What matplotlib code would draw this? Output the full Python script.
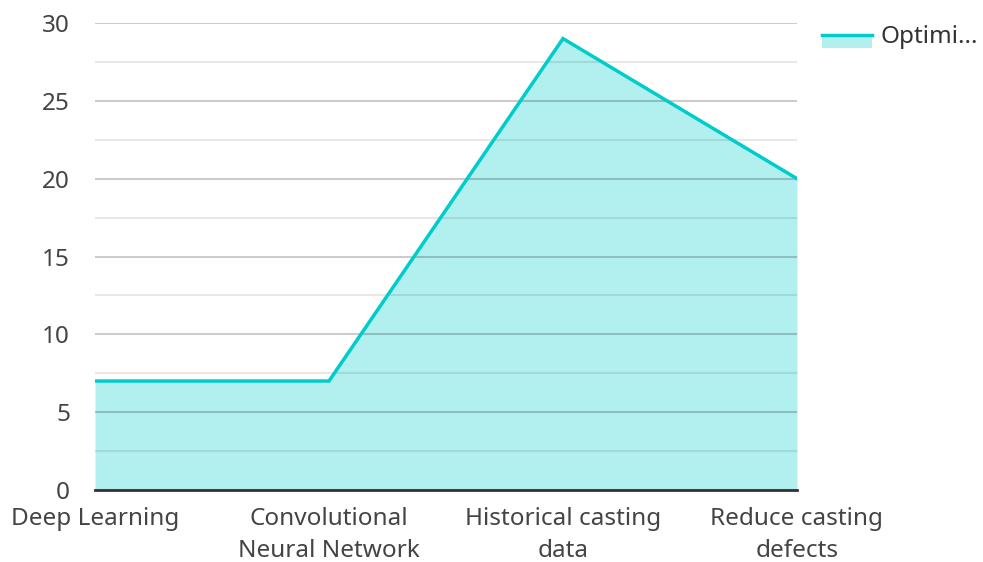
import matplotlib.pyplot as plt
from matplotlib.lines import Line2D
from matplotlib.patches import Rectangle
import numpy as np

plt.rcParams['font.family'] = ['Noto Sans', 'DejaVu Sans']

categories = ['Deep Learning', 'Convolutional\nNeural Network',
              'Historical casting\ndata', 'Reduce casting\ndefects']
values = [7, 7, 29, 20]
series_name = 'Optimi...'

line_col = '#00cccc'
fill_col = (0.0, 0.8, 0.8, 0.3)
fs = 17.5

fig = plt.figure(figsize=(9.83, 5.62), dpi=100)
ax = fig.add_axes([95/983, 72/562, 702/983, 467/562])

x = np.arange(len(values))
ax.fill_between(x, 0, values, color=fill_col, lw=0, zorder=1)
ax.plot(x, values, color=line_col, lw=2.5, zorder=4, solid_joinstyle='miter')

ax.set_xlim(0, len(values) - 1)
ax.set_ylim(0, 30)
ax.set_yticks(np.arange(0, 31, 5))
ax.set_yticks(np.arange(2.5, 30, 5), minor=True)
ax.set_xticks(x)
ax.set_xticklabels(categories, linespacing=1.45)

ax.grid(axis='y', which='major', color='black', alpha=0.2, lw=1.5, zorder=3)
ax.grid(axis='y', which='minor', color='black', alpha=0.09, lw=1.5, zorder=3)
ax.set_axisbelow(False)

for s in ['top', 'right', 'left']:
    ax.spines[s].set_visible(False)
ax.spines['bottom'].set_color('#333333')
ax.spines['bottom'].set_linewidth(2)
ax.spines['bottom'].set_zorder(5)

ax.tick_params(axis='both', which='both', length=0, labelsize=fs,
               labelcolor='#444444')
ax.tick_params(axis='y', pad=18)
ax.tick_params(axis='x', pad=12)

# legend drawn by hand in figure pixels
fig.add_artist(Rectangle((822/983, (562-48)/562), 50/983, 13/562,
                         transform=fig.transFigure, color=fill_col, lw=0))
fig.add_artist(Line2D([822/983, 872/983], [(562-35)/562, (562-35)/562],
                      transform=fig.transFigure, color=line_col, lw=2.5))
fig.text(881/983, (562-37)/562, series_name, fontsize=fs, color='#333333',
         va='center', ha='left')

fig.savefig('out.png', dpi=100)
